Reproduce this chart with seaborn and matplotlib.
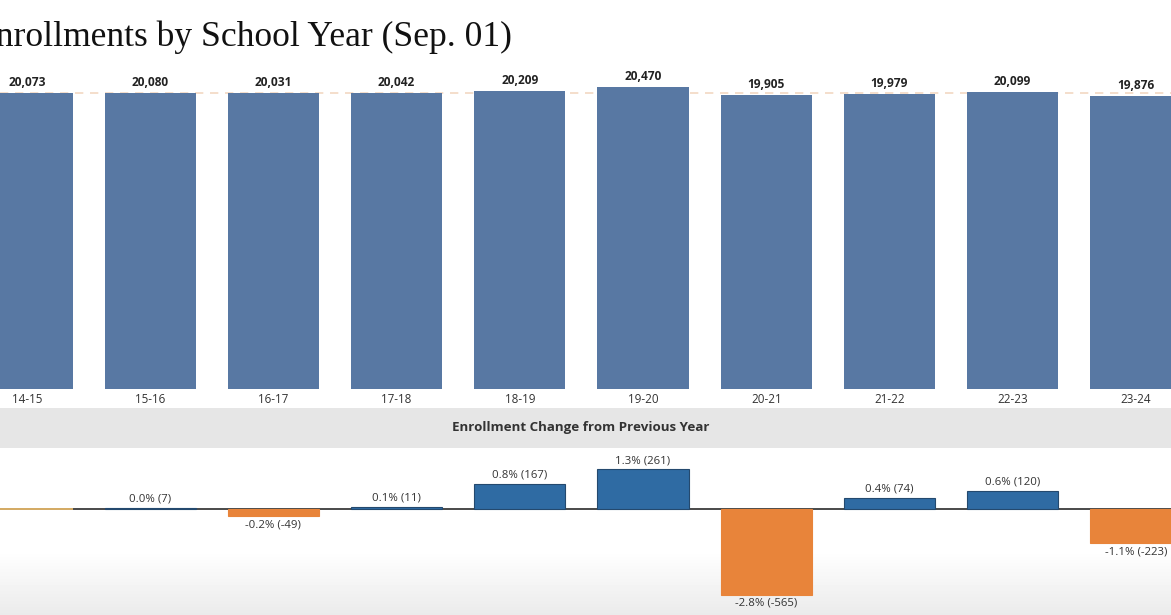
import numpy as np
import matplotlib
matplotlib.use("Agg")
import matplotlib.pyplot as plt
import seaborn as sns

# Data
years = ["14-15", "15-16", "16-17", "17-18", "18-19",
         "19-20", "20-21", "21-22", "22-23", "23-24"]
enrollments = [20073, 20080, 20031, 20042, 20209,
               20470, 19905, 19979, 20099, 19876]
changes = [0, 7, -49, 11, 167, 261, -565, 74, 120, -223]

sns.set_theme(style="white")
plt.rcParams['font.family'] = ['Open Sans', 'DejaVu Sans']

W, H = 1171, 615
fig = plt.figure(figsize=(W / 100, H / 100), dpi=100)
fig.patch.set_facecolor('white')

# light grey fade at the bottom of the screenshot
bg = fig.add_axes([0, 0, 1, 1], zorder=-10)
shade = np.ones((H, 1))
ramp_start = 550
shade[ramp_start:, 0] = np.linspace(1.0, 0.92, H - ramp_start)
bg.imshow(shade, extent=[0, 1, 0, 1], aspect='auto', cmap='gray', vmin=0, vmax=1)
bg.axis('off')

# x limits so that the first and last bars are cut like in the reference
step = 123.2
x_left = -27 / step
x_right = (W - 27) / step


def px_axes(top, bottom):
    return [0, (H - bottom) / H, 1, (bottom - top) / H]


# --- top panel: enrollments ---
ax = fig.add_axes(px_axes(65, 389))
ax.patch.set_alpha(0)
sns.barplot(x=years, y=enrollments, color='#5878a3', width=0.74,
            saturation=1, linewidth=0, ax=ax)
ax.set_xlim(x_left, x_right)
ax.set_ylim(0, (389 - 65) * 67.78)
avg = np.mean(enrollments)
ax.axhline(avg, color='#f2d8c2', lw=1.2, ls=(0, (5, 4)), zorder=0.5)
for i, v in enumerate(enrollments):
    ax.text(i, v + 280, f"{v:,}", ha='center', va='bottom',
            fontsize=8.6, fontweight='bold', color='#222222')
ax.set_yticks([])
ax.set_xlabel('')
ax.set_ylabel('')
ax.tick_params(axis='x', length=0, pad=3, labelsize=8.4, colors='#333333')
sns.despine(ax=ax, left=True, bottom=True)

# title (the left edge is cut off in the reference)
fig.text(512 / W, 1 - 37 / H, "Enrollments by School Year (Sep. 01)",
         ha='right', va='center', fontsize=25.6, color='#111111',
         family=['Liberation Serif', 'DejaVu Serif'])

# --- grey header band ---
band = fig.add_axes(px_axes(408, 448))
band.set_facecolor('#e6e6e6')
band.set_xticks([])
band.set_yticks([])
for s in band.spines.values():
    s.set_visible(False)
band.text(0.496, 0.5, "Enrollment Change from Previous Year", ha='center',
          va='center', fontsize=9.6, fontweight='bold', color='#333333',
          transform=band.transAxes)

# --- bottom panel: change from previous year ---
ax2 = fig.add_axes(px_axes(450, 615))
ax2.patch.set_alpha(0)
colors = ['#f0bf6a' if c == 0 else ('#2f6ba3' if c > 0 else '#e8843a')
          for c in changes]
sns.barplot(x=years, y=changes, hue=years, palette=colors, legend=False,
            width=0.74, saturation=1, linewidth=0, ax=ax2)
ax2.axhline(0, color='#3a3a3a', lw=1.3, zorder=1)
for p, c in zip(ax2.patches, changes):
    p.set_zorder(2)
    if c == 0:
        p.set_edgecolor('#f0bf6a')
        p.set_linewidth(1.2)
    else:
        # thin dark outline like the reference
        p.set_edgecolor('#24496e' if c > 0 else '#e8843a')
        p.set_linewidth(0.8)
ax2.set_xlim(x_left, x_right)
ax2.set_ylim(-(615 - 509) * 6.6, (509 - 450) * 6.6)
for i, c in enumerate(changes):
    if i == 0:
        continue
    pct = c / enrollments[i - 1] * 100
    label = f"{pct:.1f}% ({c})"
    if c >= 0:
        ax2.text(i, c + 22, label, ha='center', va='bottom', fontsize=8.2,
                 color='#333333')
    else:
        ax2.text(i, c - 22, label, ha='center', va='top', fontsize=8.2,
                 color='#333333')
ax2.set_xticks([])
ax2.set_yticks([])
ax2.set_xlabel('')
ax2.set_ylabel('')
sns.despine(ax=ax2, left=True, bottom=True)

fig.savefig('out.png', dpi=100)
